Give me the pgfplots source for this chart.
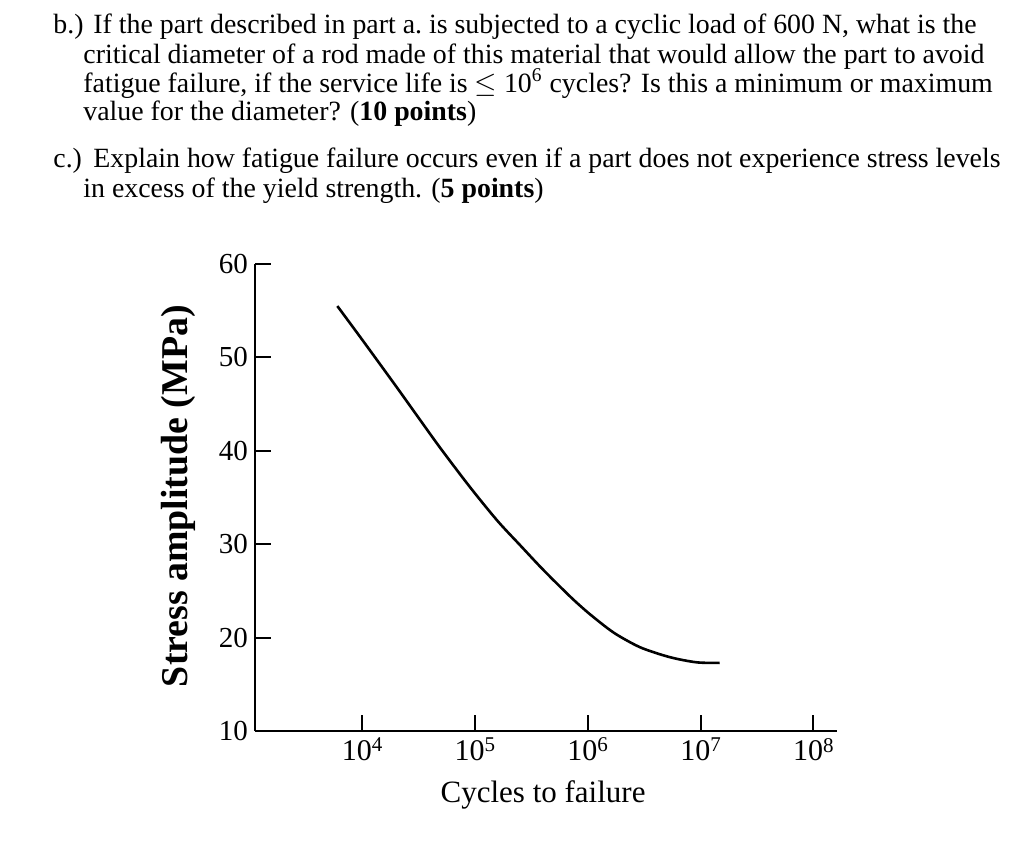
\documentclass[border=0pt]{standalone}
\usepackage{fontspec}
\setmainfont{Liberation Serif}
\usepackage{graphicx}
\usepackage{pgfplots}
\pgfplotsset{compat=1.18}
\newlength\Lw
\newcommand{\tsup}[1]{\raisebox{0.28em}{\fontsize{10.5pt}{10.5pt}\selectfont #1}}
\begin{document}%
\settowidth\Lw{\fontsize{10pt}{12pt}\selectfont critical diameter of a rod made of this material that would allow the part to avoid}%
\pgfmathsetmacro\bodysize{10*450.5/\Lw}%
\def\body{\fontsize{\bodysize pt}{\bodysize pt}\selectfont}%
\begin{tikzpicture}[x=0.5pt,y=-0.5pt]
\useasboundingbox (0,0) rectangle (1024,842);
\node[anchor=base west, inner sep=0] at (53,33) {\body b.)};
\node[anchor=base west, inner sep=0] at (93,33) {\body If the part described in part a.\ is subjected to a cyclic load of 600 N, what is the};
\node[anchor=base west, inner sep=0] at (83,63) {\body critical diameter of a rod made of this material that would allow the part to avoid};
\node[anchor=base west, inner sep=0] at (83,92) {\body fatigue failure, if the service life is $\leq$ 10\textsuperscript{6} cycles? Is this a minimum or maximum};
\node[anchor=base west, inner sep=0] at (83,120) {\body value for the diameter? (\textbf{10 points})};
\node[anchor=base west, inner sep=0] at (53,167) {\body c.)};
\node[anchor=base west, inner sep=0] at (93,167) {\body Explain how fatigue failure occurs even if a part does not experience stress levels};
\node[anchor=base west, inner sep=0] at (83,197) {\body in excess of the yield strength. (\textbf{5 points})};
\node[anchor=base, inner sep=0, rotate=90] at (187,496) {\resizebox{191pt}{!}{\bfseries Stress amplitude (MPa)}};
\begin{axis}[
  at={(127.5pt,-365.5pt)}, anchor=south west,
  scale only axis, width=291pt, height=233.5pt,
  xmode=log, xmin=1122, xmax=1.622e8, ymin=10, ymax=60,
  axis x line=bottom, axis y line=left,
  axis line style={-, line width=1.2pt},
  tick align=inside, major tick length=8pt,
  every tick/.style={black, line width=1pt},
  xminorticks=false, yminorticks=false,
  xtick={1e4,1e5,1e6,1e7,1e8},
  xticklabels={10\tsup{4},10\tsup{5},10\tsup{6},10\tsup{7},10\tsup{8}},
  ytick={10,20,30,40,50,60},
  /pgf/number format/assume math mode=true,
  yticklabel style={font=\fontsize{14.5pt}{14.5pt}\selectfont},
  xticklabel style={font=\fontsize{15pt}{15pt}\selectfont},
  xlabel={Cycles to failure},
  xlabel style={font=\fontsize{15.5pt}{15.5pt}\selectfont, at={(axis description cs:0.495,-0.154)}, anchor=base},
]
\addplot[black, line width=1.3pt, smooth, no marks] coordinates {
(6026,55.5) (10000,51.9) (20000,46.9) (32660,43.3) (50000,40.2) (90570,36.1)
(158500,32.5) (251200,29.9) (400000,27.3) (698000,24.4) (1000000,22.7)
(1500000,21.0) (1940000,20.1) (3000000,18.9) (5370000,17.9) (9300000,17.35) (14800000,17.3)
};
\end{axis}
\end{tikzpicture}
\end{document}
